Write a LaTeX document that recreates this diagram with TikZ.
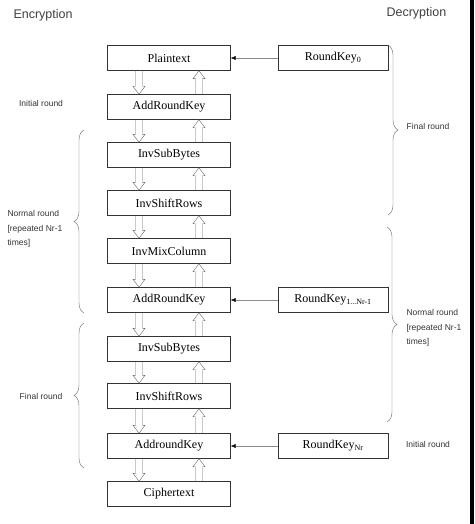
\documentclass[tikz,border=0pt]{standalone}
\usepackage{fontspec}
\setmainfont{Liberation Serif}
\setsansfont{Liberation Sans}
\usepackage{tikz}
\usetikzlibrary{arrows.meta,calc,decorations.pathreplacing}

\tikzset{
  stage/.style={draw=black!80, minimum width=123pt, minimum height=25pt, inner sep=0pt, font=\fontsize{12}{14}\selectfont},
  keybox/.style={stage, minimum width=110pt},
  hollow/.style={draw=black!60, to path={let \p1=(\tikztostart), \p2=(\tikztotarget), \n1={sign(\y2-\y1)} in
    ({\x1-3.5pt},{\y1}) -- ({\x1-3.5pt},{\y2-(\n1)*8pt}) -- ({\x1-6pt},{\y2-(\n1)*8pt}) -- (\x1,\y2)
    -- ({\x1+6pt},{\y2-(\n1)*8pt}) -- ({\x1+3.5pt},{\y2-(\n1)*8pt}) -- ({\x1+3.5pt},{\y1})}},
  keyline/.style={draw=black!45, -{Latex[black,length=5pt,width=4pt]}},
  curly/.style={draw=black!60, decorate, decoration={brace, amplitude=10pt}},
  note/.style={font=\sffamily\fontsize{8.5}{14.5}\selectfont, align=left, text=black!80}
}

\begin{document}
\begin{tikzpicture}[x=1pt,y=-1pt]
\useasboundingbox (0,0) rectangle (474,524);
\fill[black] (470,0) rectangle (474,524);
\node[anchor=west, font=\sffamily\fontsize{12.5}{14}\selectfont, text=black!75] (enc) at (10,15) {Encryption};
\node[anchor=west, font=\sffamily\fontsize{12.5}{14}\selectfont, text=black!75] (dec) at (383,13) {Decryption};
% main column
\node[stage] (s1) at (169,58) {Plaintext};
\node[stage] (s2) at (169,107) {AddRoundKey};
\node[stage] (s3) at (169,155) {InvSubBytes};
\node[stage] (s4) at (169,203) {InvShiftRows};
\node[stage] (s5) at (169,251) {InvMixColumn};
\node[stage] (s6) at (169,300) {AddRoundKey};
\node[stage] (s7) at (169,349) {InvSubBytes};
\node[stage] (s8) at (169,396) {InvShiftRows};
\node[stage] (s9) at (169,446) {AddroundKey};
\node[stage] (s10) at (169,494) {Ciphertext};
\foreach \a/\b in {s1/s2,s2/s3,s3/s4,s4/s5,s5/s6,s6/s7,s7/s8,s8/s9,s9/s10}{
  \draw[hollow] ([xshift=-30pt]\a.south) to ([xshift=-30pt]\b.north);
  \draw[hollow] ([xshift=30pt]\b.north) to ([xshift=30pt]\a.south);
}
% round keys
\node[keybox] (k1) at (333,58) {RoundKey\textsubscript{0}};
\node[keybox] (k2) at (333,300) {RoundKey\textsubscript{1...Nr-1}};
\node[keybox] (k3) at (333,446) {RoundKey\textsubscript{Nr}};
\draw[keyline] (k1) -- (s1);
\draw[keyline] (k2) -- (s6);
\draw[keyline] (k3) -- (s9);
% braces
\coordinate (la) at (84,130); \coordinate (lb) at (84,313);
\coordinate (lc) at (84,323); \coordinate (ld) at (84,468);
\coordinate (ra) at (388,45); \coordinate (rb) at (388,215);
\coordinate (rc) at (387,227); \coordinate (rd) at (387,422);
\draw[curly] (lb) -- (la);
\draw[curly] (ld) -- (lc);
\draw[curly] (ra) -- (rb);
\draw[curly] (rc) -- (rd);
\node[note] (n1) at (41,103) {Initial round};
\node[note, anchor=west] (n2) at (4,229) {Normal round\\{[}repeated Nr-1\\times{]}};
\node[note] (n3) at (41,396) {Final round};
\node[note] (n4) at (428,126) {Final round};
\node[note, anchor=west] (n5) at (403,328) {Normal round\\{[}repeated Nr-1\\times{]}};
\node[note] (n6) at (428,444) {Initial round};
\end{tikzpicture}
\end{document}
